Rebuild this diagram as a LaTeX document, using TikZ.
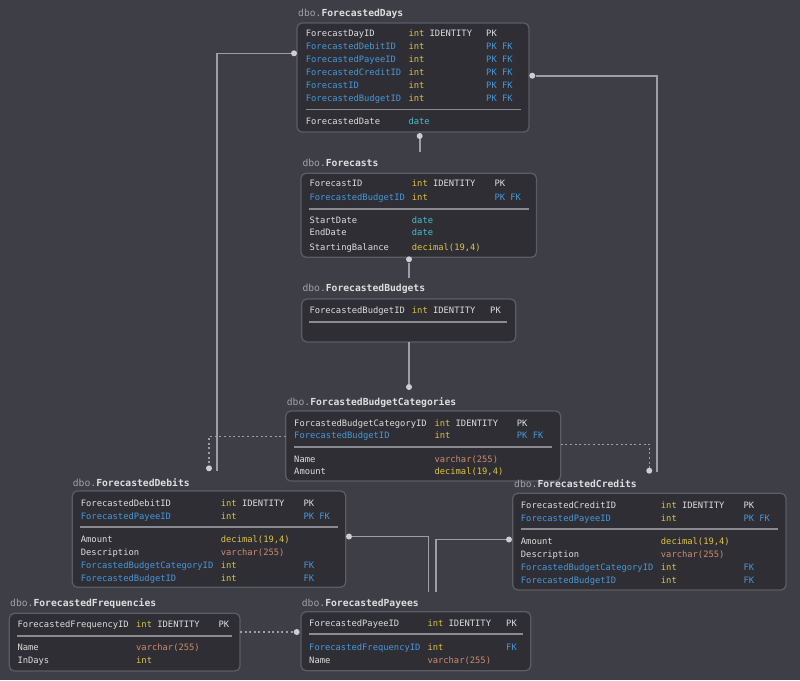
\documentclass[tikz,border=0pt]{standalone}
\usepackage{fontspec}
\setmonofont{DejaVu Sans Mono}
\definecolor{bgc}{RGB}{62,62,70}
\definecolor{boxfill}{RGB}{46,46,52}
\definecolor{boxline}{RGB}{92,92,100}
\definecolor{sepc}{RGB}{138,138,146}
\definecolor{connc}{RGB}{158,158,166}
\definecolor{dotc}{RGB}{205,205,210}
\definecolor{txtw}{RGB}{222,222,222}
\definecolor{dbog}{RGB}{160,160,168}
\definecolor{blu}{RGB}{72,152,218}
\definecolor{yel}{RGB}{222,196,72}
\definecolor{cya}{RGB}{70,190,212}
\definecolor{org}{RGB}{206,140,108}
\newcommand\bl[1]{\textcolor{blu}{#1}}
\newcommand\tyint{\textcolor{yel}{int}}
\newcommand\tyid{\textcolor{yel}{int} IDENTITY}
\newcommand\tydate{\textcolor{cya}{date}}
\newcommand\tydec{\textcolor{yel}{decimal(19,4)}}
\newcommand\tyvc{\textcolor{org}{varchar(255)}}
\newcommand\erow[8]{\node[cell] (#1n) at (#3,#2) {#6};\node[cell] (#1t) at (#4,#2) {#7};\node[cell] (#1k) at (#5,#2) {#8};}
\newcommand\etitle[4]{\node[ttl] (#1) at (#2,#3) {dbo.\textcolor{txtw}{\bfseries #4}};}
\tikzset{
  tbl/.style={draw=boxline, fill=boxfill, rounded corners=5pt, line width=1.3pt, anchor=north west, inner sep=0pt, outer sep=0pt},
  cell/.style={anchor=base west, inner sep=0pt, font=\ttfamily\fontsize{8.8}{10}\selectfont, text=txtw},
  ttl/.style={anchor=base west, inner sep=0pt, font=\ttfamily\fontsize{9.7}{11}\selectfont, text=dbog},
  sepl/.style={draw=sepc, line width=1.8pt},
  conn/.style={draw=connc, line width=1.6pt},
  dconn/.style={conn, line width=1.5pt, dash pattern=on 2pt off 2.6pt},
  dot/.style={circle, fill=dotc, inner sep=0pt, minimum size=6pt},
}
\begin{document}
\begin{tikzpicture}[x=1pt,y=-1pt]
\fill[bgc] (0,0) rectangle (800,680);
\useasboundingbox (0,0) rectangle (800,680);

% ---------- tables ----------
\node[tbl, minimum width=232pt, minimum height=109pt] (days) at (297,23) {};
\node[tbl, minimum width=235.5pt, minimum height=84pt] (fc) at (301,173.3) {};
\node[tbl, minimum width=214pt, minimum height=43pt] (bud) at (301.7,299) {};
\node[tbl, minimum width=275pt, minimum height=70pt] (cat) at (285.7,411) {};
\node[tbl, minimum width=273.4pt, minimum height=96.3pt] (deb) at (72.3,491) {};
\node[tbl, minimum width=273.3pt, minimum height=96.7pt] (cre) at (512.7,493.3) {};
\node[tbl, minimum width=230.7pt, minimum height=57.7pt] (frq) at (9.3,613.3) {};
\node[tbl, minimum width=229.7pt, minimum height=59pt] (pay) at (301,611.7) {};

% ---------- titles ----------
\etitle{tdays}{298}{16.5}{ForecastedDays}
\etitle{tfc}{302.3}{166.7}{Forecasts}
\etitle{tbud}{302.3}{291.7}{ForecastedBudgets}
\etitle{tcat}{286.7}{405}{ForcastedBudgetCategories}
\etitle{tdeb}{72.7}{486}{ForecastedDebits}
\etitle{tcre}{514}{487.3}{ForecastedCredits}
\etitle{tfrq}{10}{606.7}{ForecastedFrequencies}
\etitle{tpay}{301.7}{606}{ForecastedPayees}

% ---------- ForecastedDays ----------
\erow{d1}{36.6}{305.7}{408.3}{486}{ForecastDayID}{\tyid}{PK}
\erow{d2}{49}{305.7}{408.3}{486}{\bl{ForecastedDebitID}}{\tyint}{\bl{PK FK}}
\erow{d3}{62}{305.7}{408.3}{486}{\bl{ForecastedPayeeID}}{\tyint}{\bl{PK FK}}
\erow{d4}{75.3}{305.7}{408.3}{486}{\bl{ForecastedCreditID}}{\tyint}{\bl{PK FK}}
\erow{d5}{88.3}{305.7}{408.3}{486}{\bl{ForecastID}}{\tyint}{\bl{PK FK}}
\erow{d6}{101.6}{305.7}{408.3}{486}{\bl{ForecastedBudgetID}}{\tyint}{\bl{PK FK}}
\coordinate (s1a) at (305.7,109.5); \coordinate (s1b) at (521,109.5);
\draw[sepl] (s1a) -- (s1b);
\erow{d7}{124}{305.7}{408.3}{486}{ForecastedDate}{\tydate}{}

% ---------- Forecasts ----------
\erow{f1}{186.6}{309.3}{411.7}{494.3}{ForecastID}{\tyid}{PK}
\erow{f2}{200.3}{309.3}{411.7}{494.3}{\bl{ForecastedBudgetID}}{\tyint}{\bl{PK FK}}
\coordinate (s2a) at (309.3,209); \coordinate (s2b) at (529,209);
\draw[sepl] (s2a) -- (s2b);
\erow{f3}{223.3}{309.3}{411.7}{494.3}{StartDate}{\tydate}{}
\erow{f4}{235.6}{309.3}{411.7}{494.3}{EndDate}{\tydate}{}
\erow{f5}{250}{309.3}{411.7}{494.3}{StartingBalance}{\tydec}{}

% ---------- ForecastedBudgets ----------
\erow{b1}{313.3}{309.3}{411.7}{490}{ForecastedBudgetID}{\tyid}{PK}
\coordinate (s3a) at (309.3,321.7); \coordinate (s3b) at (507,321.7);
\draw[sepl] (s3a) -- (s3b);

% ---------- ForcastedBudgetCategories ----------
\erow{c1}{426.6}{294}{434.3}{516.7}{ForcastedBudgetCategoryID}{\tyid}{PK}
\erow{c2}{438.3}{294}{434.3}{516.7}{\bl{ForecastedBudgetID}}{\tyint}{\bl{PK FK}}
\coordinate (s4a) at (294,446.7); \coordinate (s4b) at (551.7,446.7);
\draw[sepl] (s4a) -- (s4b);
\erow{c3}{462.6}{294}{434.3}{516.7}{Name}{\tyvc}{}
\erow{c4}{474.3}{294}{434.3}{516.7}{Amount}{\tydec}{}

% ---------- ForecastedDebits ----------
\erow{e1}{506.6}{80.7}{220.7}{303.3}{ForecastedDebitID}{\tyid}{PK}
\erow{e2}{519}{80.7}{220.7}{303.3}{\bl{ForecastedPayeeID}}{\tyint}{\bl{PK FK}}
\coordinate (s5a) at (80,526.7); \coordinate (s5b) at (337.7,526.7);
\draw[sepl] (s5a) -- (s5b);
\erow{e3}{542.3}{80.7}{220.7}{303.3}{Amount}{\tydec}{}
\erow{e4}{555}{80.7}{220.7}{303.3}{Description}{\tyvc}{}
\erow{e5}{568.6}{80.7}{220.7}{303.3}{\bl{ForcastedBudgetCategoryID}}{\tyint}{\bl{FK}}
\erow{e6}{581}{80.7}{220.7}{303.3}{\bl{ForecastedBudgetID}}{\tyint}{\bl{FK}}

% ---------- ForecastedCredits ----------
\erow{r1}{508.3}{520.7}{660.7}{743.3}{ForecastedCreditID}{\tyid}{PK}
\erow{r2}{521.6}{520.7}{660.7}{743.3}{\bl{ForecastedPayeeID}}{\tyint}{\bl{PK FK}}
\coordinate (s6a) at (520.7,529); \coordinate (s6b) at (777.7,529);
\draw[sepl] (s6a) -- (s6b);
\erow{r3}{544}{520.7}{660.7}{743.3}{Amount}{\tydec}{}
\erow{r4}{557.3}{520.7}{660.7}{743.3}{Description}{\tyvc}{}
\erow{r5}{570.6}{520.7}{660.7}{743.3}{\bl{ForcastedBudgetCategoryID}}{\tyint}{\bl{FK}}
\erow{r6}{583.3}{520.7}{660.7}{743.3}{\bl{ForecastedBudgetID}}{\tyint}{\bl{FK}}

% ---------- ForecastedFrequencies ----------
\erow{q1}{627.6}{17.3}{136}{218.3}{ForecastedFrequencyID}{\tyid}{PK}
\coordinate (s7a) at (17.3,635.7); \coordinate (s7b) at (232.3,635.7);
\draw[sepl] (s7a) -- (s7b);
\erow{q2}{650.6}{17.3}{136}{218.3}{Name}{\tyvc}{}
\erow{q3}{663.6}{17.3}{136}{218.3}{InDays}{\tyint}{}

% ---------- ForecastedPayees ----------
\erow{p1}{626.6}{309}{427.3}{506}{ForecastedPayeeID}{\tyid}{PK}
\coordinate (s8a) at (309,634.3); \coordinate (s8b) at (523.3,634.3);
\draw[sepl] (s8a) -- (s8b);
\erow{p2}{650}{309}{427.3}{506}{\bl{ForecastedFrequencyID}}{\tyint}{\bl{FK}}
\erow{p3}{663.3}{309}{427.3}{506}{Name}{\tyvc}{}

% ---------- connectors ----------
\node[dot] (daysL) at (294,53.3) {};
\node[dot] (daysR) at (532.3,75.7) {};
\node[dot] (daysB) at (419.7,136) {};
\node[dot] (fcB) at (409,259.3) {};
\node[dot] (catT) at (409,387) {};
\node[dot] (catLd) at (209,468.3) {};
\node[dot] (catRd) at (649.3,470.7) {};
\node[dot] (debR) at (349,536.5) {};
\node[dot] (creL) at (509,539.5) {};
\node[dot] (payL) at (296.7,632) {};

\coordinate (ea) at (216.7,471);
\coordinate (eb) at (656.7,472);
\coordinate (ec) at (419.7,152);
\coordinate (ed) at (409,278);
\coordinate (ee) at (428.3,592);
\coordinate (ef) at (435.7,592);
\coordinate (cL) at (285.7,436.7);
\coordinate (cR) at (560.7,444.3);
\coordinate (fR) at (240,632);
\coordinate (bB) at (409,342);

\draw[conn] (daysL) -| (ea);
\draw[conn] (daysR) -| (eb);
\draw[conn] (daysB) -- (ec);
\draw[conn] (fcB) -- (ed);
\draw[conn] (bB) -- (catT);
\draw[dconn] (cL) -| (catLd);
\draw[dconn] (cR) -| (catRd);
\draw[conn] (debR) -| (ee);
\draw[conn] (creL) -| (ef);
\draw[dconn] (fR) -- (payL);
\end{tikzpicture}
\end{document}
